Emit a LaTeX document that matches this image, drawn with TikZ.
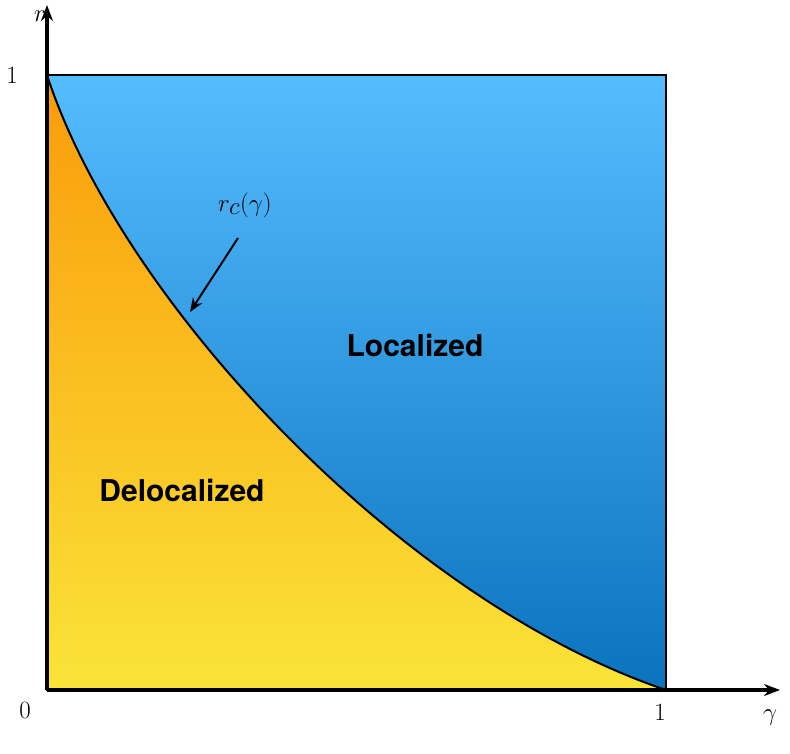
\documentclass[tikz,border=0pt]{standalone}
\usepackage{fontspec}
\setsansfont{TeX Gyre Heros}
\usetikzlibrary{arrows.meta}
\definecolor{bTop}{RGB}{85,188,255}
\definecolor{bBot}{RGB}{10,115,190}
\definecolor{oTop}{RGB}{250,155,10}
\definecolor{oBot}{RGB}{250,228,55}
\begin{document}
\begin{tikzpicture}[x=1pt,y=-1pt,
  lab/.style={font=\sffamily\bfseries\fontsize{30}{34}\selectfont},
  mlab/.style={font=\fontsize{38}{42}\selectfont}]
\useasboundingbox (0,0) rectangle (790,753);
\coordinate (TL) at (47,75);
\coordinate (BR) at (666,690);
\begin{scope}
\clip (47,75) rectangle (666,690);
\shade[top color=bTop,bottom color=bBot] (47,75) rectangle (666,690);
\clip (47,75) .. controls (120,300) and (400,600) .. (666,690) -- (47,690) -- cycle;
\shade[top color=oTop,bottom color=oBot] (47,75) rectangle (666,690);
\end{scope}
\draw[line width=2pt] (47,75) rectangle (666,690);
\draw[line width=2pt] (TL) .. controls (120,300) and (400,600) .. (BR);
\draw[line width=4pt,-{Stealth[length=16pt,width=12pt]}] (47,690) -- (780,690);
\draw[line width=4pt,-{Stealth[length=16pt,width=12pt]}] (47,690) -- (47,5);
\node[mlab] (r) at (40,16) {$r$};
\node[mlab] (one) at (12,75) {$1$};
\node[mlab] (zero) at (25,710) {$0$};
\node[mlab] (onex) at (660,712) {$1$};
\node[mlab] (g) at (770,718) {$\gamma$};
\node[mlab] (rc) at (245,205) {$r_c(\gamma)$};
\coordinate (tip) at (190,312);
\draw[line width=2pt,-{Stealth[length=14pt,width=11pt]}] (238,238) -- (tip);
\node[lab] (loc) at (415,345) {Localized};
\node[lab] (deloc) at (182,490) {Delocalized};
\end{tikzpicture}
\end{document}
